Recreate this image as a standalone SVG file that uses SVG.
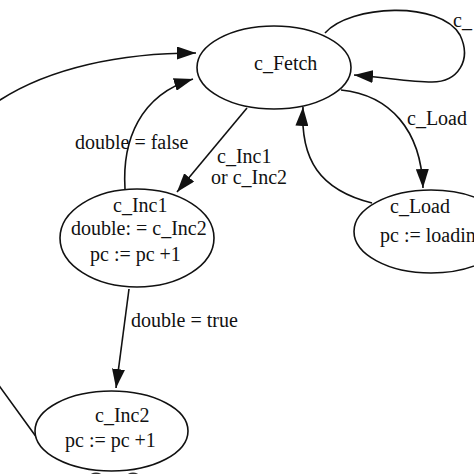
<svg xmlns="http://www.w3.org/2000/svg" width="474" height="474" viewBox="0 0 474 474">
<style>
.n{fill:#fff;stroke:#111;stroke-width:1.6}
.e{fill:none;stroke:#111;stroke-width:1.6}
text{font-family:"Liberation Serif","Times New Roman",serif;font-size:20px;fill:#111}
</style>
<defs>
<marker id="a" markerUnits="userSpaceOnUse" markerWidth="19" markerHeight="13" refX="19" refY="6.5" orient="auto">
<path d="M0,0 L19,6.5 L0,13 z" fill="#111"/>
</marker>
</defs>
<rect width="474" height="474" fill="#fff"/>
<g id="edges">
<path class="e" marker-end="url(#a)" d="M325,33 C350,5 440,0 460,35 C472,60 458,82 432,82 C410,82 390,78 354,75"/>
<path class="e" marker-end="url(#a)" d="M37,438 L0,387 C-40,330 -50,150 0,100 C50,68 120,53 196,53"/>
<path class="e" marker-end="url(#a)" d="M125,189 C122,140 140,95 193,79"/>
<path class="e" marker-end="url(#a)" d="M247,108 L177,192"/>
<path class="e" marker-end="url(#a)" d="M341,90 C390,95 421,130 423,188"/>
<path class="e" marker-end="url(#a)" d="M372,203 C320,190 300,160 303,107"/>
<path class="e" marker-end="url(#a)" d="M129,289 L116,388"/>
<text x="453" y="27">c_</text>
<text x="407" y="125">c_Load</text>
<text x="75" y="149">double = false</text>
<text x="217" y="163">c_Inc1</text>
<text x="211" y="184">or c_Inc2</text>
<text x="131" y="327">double = true</text>
</g>
<g id="c_Fetch">
<ellipse class="n" cx="274" cy="67.5" rx="77" ry="41.5"/>
<text x="254" y="70">c_Fetch</text>
</g>
<g id="c_Inc1">
<ellipse class="n" cx="137" cy="238" rx="77" ry="49"/>
<text x="113" y="212">c_Inc1</text>
<text x="71" y="235">double: = c_Inc2</text>
<text x="90" y="261">pc := pc +1</text>
</g>
<g id="c_Load">
<ellipse class="n" cx="431" cy="231.5" rx="77" ry="41.5"/>
<text x="390" y="213">c_Load</text>
<text x="380" y="242">pc := loading</text>
</g>
<g id="c_Inc2">
<ellipse class="n" cx="111.5" cy="431" rx="76.5" ry="40"/>
<text x="95" y="422">c_Inc2</text>
<text x="65" y="447">pc := pc +1</text>
</g>
<g id="bottom-stubs">
<ellipse cx="96" cy="476" rx="6" ry="3.5" fill="#333"/>
<ellipse cx="133" cy="476" rx="6" ry="3.5" fill="#333"/>
</g>
</svg>
